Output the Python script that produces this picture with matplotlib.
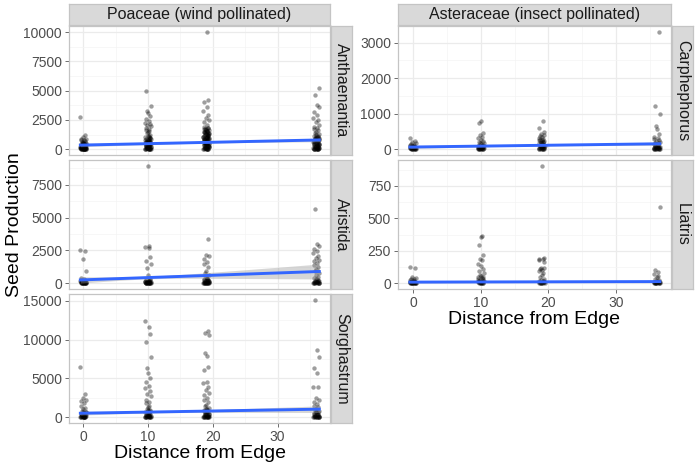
import numpy as np
import matplotlib
matplotlib.use("Agg")
import matplotlib.pyplot as plt
from matplotlib.ticker import FixedLocator

plt.rcParams['font.family'] = ['Liberation Sans', 'DejaVu Sans']

# ---------------- data ----------------
distances = [0, 10, 19, 36]

anthaenantia = [
    [2740, 1240, 1000, 900, 850, 800, 750, 700, 650, 600, 560, 520, 480, 450, 420, 390, 360, 330, 300, 270,
     240, 210, 180, 150, 120, 100, 80, 60, 40, 20, 10, 0, 0, 0, 5, 30, 70, 140, 250, 350,
     0, 15, 35, 55, 75, 95, 115, 135, 160, 190, 220, 260, 290, 320, 380, 430, 470, 510, 0, 0, 25, 45],
    [5000, 3700, 3280, 3050, 2800, 2600, 2400, 2250, 2150, 2050, 1950, 1850, 1750, 1650, 1550, 1450, 1350,
     1250, 1150, 1100, 1050, 1000, 950, 900, 850, 800, 750, 700, 650, 600, 550, 500, 450, 400, 350, 300, 250,
     200, 150, 100, 50, 20, 0, 0, 0, 10, 80, 180, 280, 380, 480, 580,
     0, 30, 60, 120, 160, 230, 270, 330, 370, 430, 520, 620, 680, 730, 820, 880, 960, 0, 40, 90],
    [10030, 4200, 4000, 3600, 3280, 2900, 2700, 2500, 2300, 2100, 1900, 1800, 1750, 1700, 1650, 1600, 1550,
     1500, 1450, 1400, 1350, 1300, 1250, 1200, 1150, 1100, 1050, 1000, 950, 900, 850, 800, 750, 700, 650,
     600, 550, 500, 450, 400, 350, 300, 250, 200, 150, 100, 50, 20, 0, 0, 0, 10, 120, 220, 320, 420, 520,
     620, 720, 820, 920, 1020,
     0, 60, 170, 270, 370, 470, 570, 670, 770, 870, 970, 1080, 1180, 1280, 1380, 1480, 1580, 1680, 1780,
     30, 90, 240, 440, 640, 840, 1040, 1240, 1440],
    [5200, 4600, 3800, 3600, 3200, 2900, 2700, 2500, 2300, 2100, 1900, 1800, 1700, 1600, 1500, 1400, 1300,
     1200, 1150, 1100, 1050, 1000, 950, 900, 850, 800, 750, 700, 650, 600, 550, 500, 450, 400, 350, 300, 250,
     200, 150, 100, 50, 20, 0, 0, 0, 10, 120, 230, 340, 460,
     0, 40, 70, 170, 270, 380, 420, 520, 580, 680, 780, 880, 980, 1080, 0, 30, 90, 200],
]

aristida = [
    [2530, 2480, 1850, 940, 400, 300, 250, 200, 150, 120, 100, 80, 60, 40, 20, 10, 0, 0, 0, 5, 30, 50, 90, 150,
     0, 15, 35, 70, 110, 180, 230, 0, 25, 60],
    [8940, 2800, 2720, 2650, 2000, 1650, 1470, 1160, 600, 300, 250, 200, 150, 100, 80, 60, 40, 20, 10, 0, 0, 0,
     5, 30, 70, 120, 180, 0, 15, 45, 90, 140, 220, 0, 25, 55],
    [3370, 2180, 2050, 1850, 1600, 1450, 1200, 940, 800, 620, 500, 400, 350, 300, 250, 200, 150, 100, 80, 60,
     40, 20, 10, 0, 0, 0, 5, 30, 120, 220, 0, 15, 50, 90, 170, 260, 330, 0, 35, 70],
    [5670, 3010, 2800, 2600, 2450, 2300, 2100, 1950, 1800, 1700, 1550, 1400, 1250, 1100, 950, 800, 650, 500,
     400, 300, 250, 200, 150, 100, 50, 20, 0, 0, 0, 10, 80, 0, 30, 60, 120, 180, 280, 0, 40],
]

sorghastrum = [
    [6450, 2950, 2500, 2260, 2100, 1800, 1500, 1200, 1000, 800, 700, 600, 500, 400, 300, 250, 200, 150, 100,
     50, 20, 0, 0, 0, 10, 80, 350, 0, 40, 120, 200, 280, 450, 650, 0, 60],
    [12350, 11600, 10680, 9700, 7740, 6280, 5700, 5040, 4500, 4060, 3700, 3380, 3000, 2700, 2260, 2000, 1800,
     1500, 1300, 1100, 900, 800, 700, 600, 500, 400, 300, 200, 150, 100, 50, 20, 0, 0, 0, 10,
     0, 40, 120, 250, 350, 450, 550, 750, 950, 0, 80, 180],
    [11070, 10800, 10600, 8250, 7950, 6500, 6110, 4530, 4350, 3900, 3500, 3100, 2800, 2500, 2180, 1900, 1600,
     1400, 1200, 1000, 900, 800, 700, 600, 500, 400, 300, 200, 150, 100, 50, 20, 0, 0, 0, 10,
     0, 40, 120, 250, 350, 450, 550, 750, 950, 1100, 0, 80, 180],
    [15130, 8630, 7820, 6320, 5680, 3890, 3850, 2440, 2200, 1900, 1700, 1500, 1300, 1100, 900, 800, 700, 600,
     500, 400, 300, 200, 150, 100, 50, 20, 0, 0, 0, 10, 0, 40, 120, 250, 350, 450, 650, 0, 80],
]

carphephorus = [
    [300, 220, 200, 180, 150, 130, 110, 100, 90, 80, 70, 60, 50, 40, 30, 20, 10, 5, 0, 0, 15, 25, 45, 35,
     0, 10, 20, 40, 65, 85, 0],
    [800, 730, 450, 400, 330, 300, 250, 220, 200, 180, 160, 140, 120, 100, 90, 80, 70, 60, 50, 40, 30, 20, 10,
     0, 0, 5, 15, 25, 35, 45, 0, 10, 30, 55, 75, 95, 0],
    [800, 600, 480, 430, 400, 370, 340, 310, 290, 270, 250, 230, 210, 190, 170, 150, 130, 110, 90, 70, 50, 30,
     20, 10, 0, 0, 5, 60, 40, 100, 0, 15, 35, 80, 120, 160, 200, 260, 0],
    [3300, 1220, 990, 640, 560, 420, 350, 300, 280, 250, 220, 200, 180, 160, 140, 120, 100, 80, 60, 50, 40, 30,
     20, 10, 0, 0, 5, 15, 25, 35, 45, 0, 10, 30, 55, 75, 95, 0],
]

liatris = [
    [127, 115, 45, 40, 35, 30, 25, 20, 15, 12, 10, 8, 6, 5, 4, 3, 2, 1, 0, 0, 0, 0, 2, 5, 10, 0, 3, 7, 14, 0],
    [360, 358, 295, 220, 190, 175, 150, 130, 110, 90, 75, 65, 55, 50, 45, 40, 35, 30, 25, 20, 15, 10, 5, 2, 0,
     0, 0, 8, 12, 18, 0, 4, 9, 14, 0],
    [905, 192, 188, 185, 175, 165, 120, 115, 110, 105, 95, 80, 60, 45, 35, 25, 18, 12, 8, 5, 2, 0, 0, 0, 10, 20,
     0, 4, 14, 0],
    [590, 100, 85, 70, 55, 45, 35, 28, 20, 15, 10, 8, 5, 3, 2, 0, 0, 0, 0, 5, 12, 0, 4, 9, 0],
]

# fixed horizontal jitter offsets (distance units), cycled through
jitter = [-0.45, 0.30, -0.10, 0.42, -0.30, 0.12, -0.38, 0.22, 0.00, -0.20, 0.36, -0.05,
          0.18, -0.42, 0.08, 0.28, -0.25, 0.45, -0.15, 0.05, 0.33, -0.35, 0.15]

# linear fit: value at distance 0, value at distance 36,
# CI half-width at its narrowest, where it is narrowest, and at distance 36
fit_start = {"Anthaenantia": 350, "Aristida": 250, "Sorghastrum": 510, "Carphephorus": 60, "Liatris": 8}
fit_end = {"Anthaenantia": 780, "Aristida": 880, "Sorghastrum": 1020, "Carphephorus": 150, "Liatris": 12}
ci_min = {"Anthaenantia": 60, "Aristida": 100, "Sorghastrum": 120, "Carphephorus": 15, "Liatris": 4}
ci_center = {"Anthaenantia": 17, "Aristida": 10, "Sorghastrum": 12, "Carphephorus": 17, "Liatris": 15}
ci_end = {"Anthaenantia": 150, "Aristida": 560, "Sorghastrum": 420, "Carphephorus": 45, "Liatris": 8}

yticks = {
    "Anthaenantia": [0, 2500, 5000, 7500, 10000],
    "Aristida": [0, 2500, 5000, 7500],
    "Sorghastrum": [0, 5000, 10000, 15000],
    "Carphephorus": [0, 1000, 2000, 3000],
    "Liatris": [0, 250, 500, 750],
}
xticks = [0, 10, 20, 30]

species_data = {
    "Anthaenantia": anthaenantia, "Aristida": aristida, "Sorghastrum": sorghastrum,
    "Carphephorus": carphephorus, "Liatris": liatris,
}

# ---------------- layout ----------------
W, H = 700, 467
fig = plt.figure(figsize=(W / 100, H / 100), dpi=100)
fig.patch.set_facecolor("white")


def box(x0, y0, x1, y1):
    return [x0 / W, 1 - y1 / H, (x1 - x0) / W, (y1 - y0) / H]


rows = [(26, 155), (160, 289), (294, 423)]
left_col = (69, 330)
right_col = (398, 671)

panels = [
    ("Anthaenantia", left_col, rows[0], False),
    ("Aristida", left_col, rows[1], False),
    ("Sorghastrum", left_col, rows[2], True),
    ("Carphephorus", right_col, rows[0], False),
    ("Liatris", right_col, rows[1], True),
]

BORDER = "#c4c4c4"
STRIP = "#d9d9d9"
TICKC = "#4d4d4d"

for name, (x0, x1), (y0, y1), bottom in panels:
    ax = fig.add_axes(box(x0, y0, x1, y1))
    data = species_data[name]
    xs, ys = [], []
    k = 0
    for d, vals in zip(distances, data):
        for v in vals:
            xs.append(d + jitter[k % len(jitter)])
            ys.append(v)
            k += 1
    xs = np.array(xs)
    ys = np.array(ys)

    ax.scatter(xs, ys, s=10, c="black", alpha=0.38, linewidths=0, zorder=3)

    xl = np.linspace(xs.min(), xs.max(), 100)
    a0, a1 = fit_start[name], fit_end[name]
    yl = a0 + (a1 - a0) * xl / 36.0
    xc = ci_center[name]
    bcoef = np.sqrt(max(ci_end[name] ** 2 - ci_min[name] ** 2, 0)) / (36 - xc)
    hw = np.sqrt(ci_min[name] ** 2 + (bcoef * (xl - xc)) ** 2)
    ax.fill_between(xl, yl - hw, yl + hw, color="#999999", alpha=0.4, linewidth=0, zorder=4)
    ax.plot(xl, yl, color="#3366FF", lw=2.1, zorder=5)

    ymax = ys.max()
    ymin = min(ys.min(), 0)
    r = ymax - ymin
    ax.set_ylim(ymin - 0.05 * r, ymax + 0.05 * r)
    ax.set_xlim(-2.2, 38.1)

    yt = yticks[name]
    ax.yaxis.set_major_locator(FixedLocator(yt))
    ax.yaxis.set_minor_locator(FixedLocator([(yt[i] + yt[i + 1]) / 2 for i in range(len(yt) - 1)]
                                            + [yt[-1] + (yt[1] - yt[0]) / 2]))
    ax.xaxis.set_major_locator(FixedLocator(xticks))
    ax.xaxis.set_minor_locator(FixedLocator([5, 15, 25, 35]))
    ax.grid(True, which="major", color="#ebebeb", lw=0.9, zorder=0)
    ax.grid(True, which="minor", color="#f4f4f4", lw=0.5, zorder=0)
    ax.set_axisbelow(True)
    for sp in ax.spines.values():
        sp.set_color(BORDER)
        sp.set_linewidth(0.9)
    ax.tick_params(axis="y", which="major", labelsize=10, labelcolor=TICKC, color="#555555",
                   length=3, width=0.6, pad=2)
    ax.tick_params(axis="both", which="minor", length=0)
    if bottom:
        ax.tick_params(axis="x", which="major", labelsize=10, labelcolor=TICKC, color="#555555",
                       length=3, width=0.6, pad=2)
        ax.set_xlabel("Distance from Edge", fontsize=14, color="black", labelpad=1)
    else:
        ax.tick_params(axis="x", which="major", length=0, labelbottom=False)

    # right strip
    sax = fig.add_axes(box(x1 + 1, y0, x1 + 22, y1))
    sax.set_facecolor(STRIP)
    sax.set_xticks([])
    sax.set_yticks([])
    for sp in sax.spines.values():
        sp.set_color(BORDER)
        sp.set_linewidth(0.9)
    sax.text(0.5, 0.5, name, rotation=-90, ha="center", va="center", fontsize=11.5,
             color="#1a1a1a", transform=sax.transAxes)

# top strips
for label, (x0, x1) in [("Poaceae (wind pollinated)", left_col),
                         ("Asteraceae (insect pollinated)", right_col)]:
    tax = fig.add_axes(box(x0, 4, x1, 25))
    tax.set_facecolor(STRIP)
    tax.set_xticks([])
    tax.set_yticks([])
    for sp in tax.spines.values():
        sp.set_color(BORDER)
        sp.set_linewidth(0.9)
    tax.text(0.5, 0.5, label, ha="center", va="center", fontsize=11.5, color="#1a1a1a",
             transform=tax.transAxes)

fig.text(15 / W, 1 - 225 / H, "Seed Production", rotation=90, ha="center", va="center",
         fontsize=14, color="black")

fig.savefig("out.png", dpi=100, facecolor="white")
